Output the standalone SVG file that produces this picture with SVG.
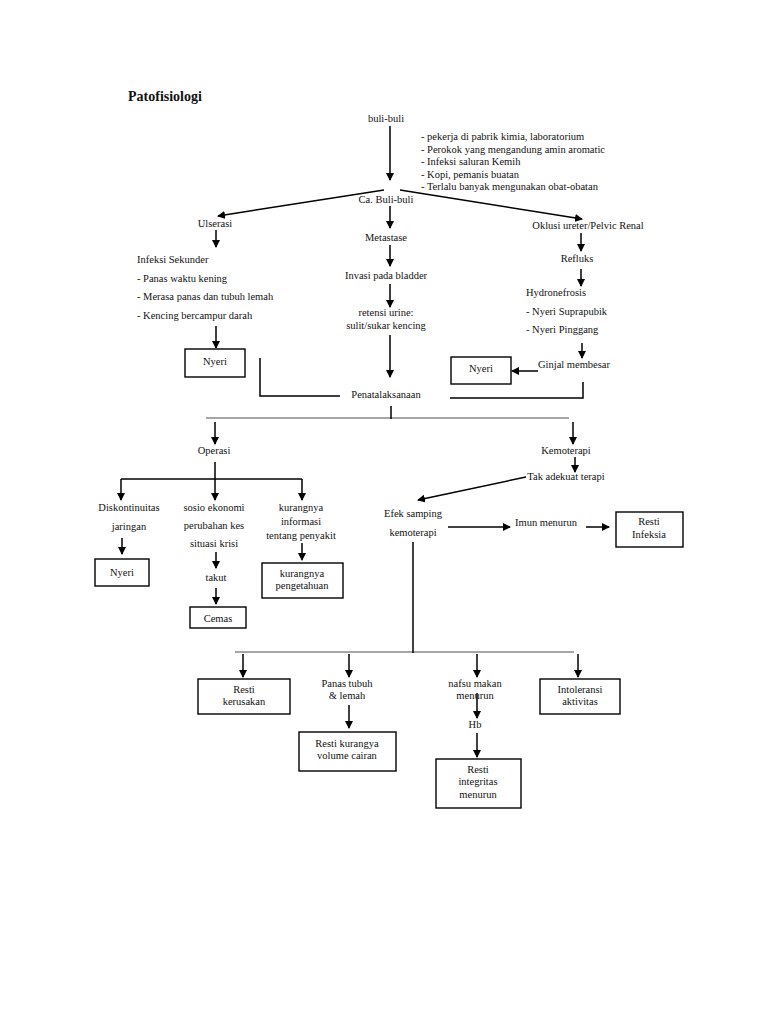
<svg xmlns="http://www.w3.org/2000/svg" width="768" height="1024" viewBox="0 0 768 1024">
<defs>
<marker id="ah" markerWidth="8" markerHeight="8" refX="7" refY="4" orient="auto" markerUnits="userSpaceOnUse"><path d="M0,0 L8,4 L0,8 z" fill="#000"/></marker>
<style>
text{font-family:"Liberation Serif","Times New Roman",serif;font-size:10.5px;fill:#111}
.c{text-anchor:middle}
.b{fill:#fff;stroke:#000;stroke-width:1.4}
.l{stroke:#000;stroke-width:1.5;fill:none}
.a{stroke:#000;stroke-width:1.5;fill:none;marker-end:url(#ah)}
.t{stroke:#000;stroke-width:0.7;fill:none}
</style>
</defs>
<rect width="768" height="1024" fill="#fff"/>
<text x="128" y="101" style="font-size:14px;font-weight:bold">Patofisiologi</text>
<g id="connectors">
<line class="a" x1="390" y1="126" x2="390" y2="180"/>
<line class="a" x1="384" y1="190" x2="218" y2="216"/>
<line class="a" x1="400" y1="190" x2="582" y2="219"/>
<line class="a" x1="390" y1="206" x2="390" y2="228"/>
<line class="a" x1="390" y1="245" x2="390" y2="266"/>
<line class="a" x1="390" y1="284" x2="390" y2="307"/>
<line class="a" x1="390" y1="335" x2="390" y2="377"/>
<line class="a" x1="216" y1="230" x2="216" y2="247"/>
<line class="a" x1="216" y1="326" x2="216" y2="348"/>
<line class="a" x1="581" y1="233" x2="581" y2="251"/>
<line class="a" x1="581" y1="269" x2="581" y2="286"/>
<line class="a" x1="582" y1="343" x2="582" y2="358"/>
<line class="a" x1="538" y1="371" x2="512" y2="371"/>
<polyline class="l" points="260,358 260,396 340,396"/>
<polyline class="l" points="450,398 583,398 583,382"/>
<line class="l" x1="391" y1="406" x2="391" y2="419"/>
<line class="t" x1="206" y1="418" x2="569" y2="418"/>
<line class="a" x1="215" y1="422" x2="215" y2="444"/>
<line class="a" x1="573" y1="422" x2="573" y2="444"/>
<line class="a" x1="575" y1="457" x2="575" y2="472"/>
<line class="l" x1="215" y1="462" x2="215" y2="479"/>
<polyline class="l" points="121,479 302,479"/>
<line class="a" x1="121" y1="479" x2="121" y2="500"/>
<line class="a" x1="215" y1="479" x2="215" y2="500"/>
<line class="a" x1="302" y1="479" x2="302" y2="500"/>
<line class="a" x1="122" y1="538" x2="122" y2="554"/>
<line class="a" x1="216" y1="552" x2="216" y2="568"/>
<line class="a" x1="216" y1="588" x2="216" y2="604"/>
<line class="a" x1="302" y1="543" x2="302" y2="560"/>
<line class="a" x1="526" y1="477" x2="418" y2="500"/>
<line class="a" x1="448" y1="527" x2="510" y2="527"/>
<line class="a" x1="586" y1="527" x2="609" y2="527"/>
<line class="l" x1="413" y1="542" x2="413" y2="653"/>
<line class="t" x1="235" y1="652" x2="574" y2="652"/>
<line class="a" x1="243" y1="654" x2="243" y2="677"/>
<line class="a" x1="349" y1="654" x2="349" y2="677"/>
<line class="a" x1="477" y1="654" x2="477" y2="677"/>
<line class="a" x1="578" y1="654" x2="578" y2="677"/>
<line class="a" x1="349" y1="705" x2="349" y2="728"/>
<line class="a" x1="477" y1="693" x2="477" y2="718"/>
<line class="a" x1="477" y1="733" x2="477" y2="757"/>
</g>
<g id="buli"><text class="c" x="386" y="122">buli-buli</text></g>
<g id="risks">
<text x="421" y="140">- pekerja di pabrik kimia, laboratorium</text>
<text x="421" y="153">- Perokok yang mengandung amin aromatic</text>
<text x="421" y="165">- Infeksi saluran Kemih</text>
<text x="421" y="178">- Kopi, pemanis buatan</text>
<text x="421" y="190">- Terlalu banyak mengunakan obat-obatan</text>
</g>
<g id="ca"><text class="c" x="386" y="203">Ca. Buli-buli</text></g>
<g id="ulserasi"><text class="c" x="215" y="227">Ulserasi</text></g>
<g id="infeksi">
<text x="137" y="263">Infeksi Sekunder</text>
<text x="137" y="282">- Panas waktu kening</text>
<text x="137" y="300">- Merasa panas dan tubuh lemah</text>
<text x="137" y="319">- Kencing bercampur darah</text>
</g>
<g id="nyeri1"><rect class="b" x="185" y="349" width="60" height="28"/><text class="c" x="215" y="365">Nyeri</text></g>
<g id="metastase"><text class="c" x="386" y="241">Metastase</text></g>
<g id="invasi"><text class="c" x="386" y="279">Invasi pada bladder</text></g>
<g id="retensi"><text class="c" x="386" y="316">retensi urine:</text><text class="c" x="386" y="329">sulit/sukar kencing</text></g>
<g id="penatalaksanaan"><text class="c" x="386" y="398">Penatalaksanaan</text></g>
<g id="oklusi"><text class="c" x="588" y="229">Oklusi ureter/Pelvic Renal</text></g>
<g id="refluks"><text class="c" x="577" y="262">Refluks</text></g>
<g id="hydro">
<text x="526" y="296">Hydronefrosis</text>
<text x="526" y="315">- Nyeri Suprapubik</text>
<text x="526" y="333">- Nyeri Pinggang</text>
</g>
<g id="ginjal"><text x="538" y="368">Ginjal membesar</text></g>
<g id="nyeri2"><rect class="b" x="451" y="357" width="60" height="27"/><text class="c" x="481" y="372">Nyeri</text></g>
<g id="operasi"><text class="c" x="214" y="454">Operasi</text></g>
<g id="kemoterapi"><text class="c" x="566" y="454">Kemoterapi</text></g>
<g id="tak"><text class="c" x="566" y="480">Tak adekuat terapi</text></g>
<g id="disk"><text class="c" x="129" y="511">Diskontinuitas</text><text class="c" x="129" y="530">jaringan</text></g>
<g id="sosio"><text class="c" x="214" y="511">sosio ekonomi</text><text class="c" x="214" y="529">perubahan kes</text><text class="c" x="214" y="547">situasi krisi</text></g>
<g id="kurang"><text class="c" x="301" y="511">kurangnya</text><text class="c" x="301" y="525">informasi</text><text class="c" x="301" y="539">tentang penyakit</text></g>
<g id="nyeri3"><rect class="b" x="95" y="559" width="54" height="27"/><text class="c" x="122" y="576">Nyeri</text></g>
<g id="takut"><text class="c" x="216" y="581">takut</text></g>
<g id="cemas"><rect class="b" x="190" y="607" width="56" height="21"/><text class="c" x="218" y="622">Cemas</text></g>
<g id="pengetahuan"><rect class="b" x="262" y="563" width="81" height="35"/><text class="c" x="302" y="577">kurangnya</text><text class="c" x="302" y="589">pengetahuan</text></g>
<g id="efek"><text class="c" x="413" y="517">Efek samping</text><text class="c" x="413" y="536">kemoterapi</text></g>
<g id="imun"><text x="515" y="526">Imun menurun</text></g>
<g id="infeksia"><rect class="b" x="616" y="512" width="67" height="35"/><text class="c" x="649" y="525">Resti</text><text class="c" x="649" y="538">Infeksia</text></g>
<g id="kerusakan"><rect class="b" x="198" y="679" width="92" height="35"/><text class="c" x="244" y="693">Resti</text><text class="c" x="244" y="705">kerusakan</text></g>
<g id="panas"><text class="c" x="347" y="687">Panas tubuh</text><text class="c" x="347" y="699">&amp; lemah</text></g>
<g id="cairan"><rect class="b" x="299" y="732" width="97" height="39"/><text class="c" x="347" y="747">Resti kurangya</text><text class="c" x="347" y="759">volume cairan</text></g>
<g id="nafsu"><text class="c" x="475" y="687">nafsu makan</text><text class="c" x="475" y="699">menurun</text></g>
<g id="hb"><text class="c" x="475" y="728">Hb</text></g>
<g id="integritas"><rect class="b" x="436" y="759" width="85" height="49"/><text class="c" x="478" y="773">Resti</text><text class="c" x="478" y="785">integritas</text><text class="c" x="478" y="798">menurun</text></g>
<g id="intoleransi"><rect class="b" x="540" y="679" width="80" height="35"/><text class="c" x="580" y="693">Intoleransi</text><text class="c" x="580" y="705">aktivitas</text></g>
</svg>
